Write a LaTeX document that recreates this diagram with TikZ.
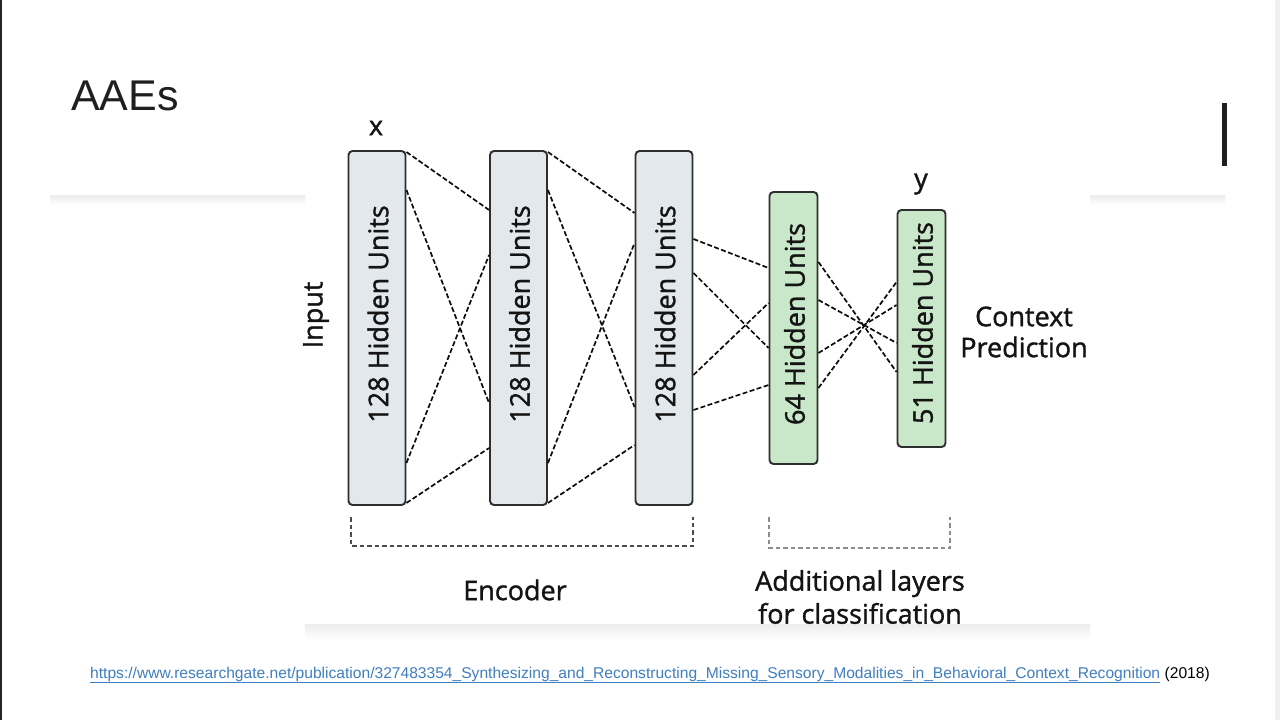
\documentclass[tikz,border=0pt]{standalone}
\usepackage{fontspec}
\setmainfont{Liberation Sans}
\newfontfamily\diagfont{Open Sans}[FakeBold=1.3]
\usetikzlibrary{calc}
\definecolor{boxgray}{HTML}{E2E8EC}
\definecolor{boxgreen}{HTML}{C9E8C9}
\definecolor{edge}{HTML}{2E2E2E}
\definecolor{linkblue}{HTML}{3F7FC0}
\begin{document}
\begin{tikzpicture}[x=1pt,y=-1pt,
  layerbox/.style={draw=edge, line width=1.9pt, rounded corners=4pt, inner sep=0pt},
  graybox/.style={layerbox, fill=boxgray, minimum width=57pt, minimum height=354pt},
  conn/.style={draw=black!95, line width=1.7pt, dash pattern=on 5pt off 2.4pt},
  brace/.style={draw=black!70, line width=1.4pt, dash pattern=on 4.5pt off 3pt},
  lbl/.style={font=\diagfont\fontsize{27}{30}\selectfont, text=black!92, inner sep=0pt},
  boxtext/.style={lbl, rotate=90}]
\useasboundingbox (0,0) rectangle (1280,720);
\fill[white] (0,0) rectangle (1280,720);
% slide edges
\fill[black!85] (0,0) rectangle (2,720);
\fill[black!6] (1275,0) rectangle (1280,720);
% card shadows
\shade[top color=black!8, bottom color=white] (50,195) rectangle (305,205);
\shade[top color=black!8, bottom color=white] (1090,195) rectangle (1225,205);
\shade[top color=black!7, bottom color=white] (305,624) rectangle (1090,640);
% title
\node[anchor=base west, font=\fontsize{43}{48}\selectfont, text=black!88, inner sep=0pt] (title) at (71,110) {AAEs};
\fill[black!88] (1222,103) rectangle (1227,166);
% layers
\node[graybox] (b1) at (377,328) {};
\node[graybox] (b2) at (518.5,328) {};
\node[graybox] (b3) at (664,328) {};
\node[layerbox, fill=boxgreen, minimum width=48pt, minimum height=272pt] (b4) at (793.5,328) {};
\node[layerbox, fill=boxgreen, minimum width=48pt, minimum height=237pt] (b5) at (921.5,328.5) {};
\node[boxtext] (t1) at (378,314) {128 Hidden Units};
\node[boxtext] (t2) at (519.5,314) {128 Hidden Units};
\node[boxtext] (t3) at (665,314) {128 Hidden Units};
\node[boxtext] (t4) at (794.5,324) {64 Hidden Units};
\node[boxtext] (t5) at (922.5,323) {51 Hidden Units};
% labels
\node[lbl] (lx) at (376,128) {x};
\node[lbl] (ly) at (921,184) {y};
\node[lbl, rotate=90] (lin) at (316,315) {Input};
\node[lbl, align=center] (lcp) at (1024,332) {Context\\[1pt]Prediction};
% connections b1-b2
\draw[conn] (b1.east |- 0,152) -- (b2.west |- 0,210);
\draw[conn] (b1.east |- 0,190) -- (b2.west |- 0,403);
\draw[conn] (b1.east |- 0,463) -- (b2.west |- 0,255);
\draw[conn] (b1.east |- 0,503) -- (b2.west |- 0,448);
% b2-b3
\draw[conn] (b2.east |- 0,152) -- (b3.west |- 0,213);
\draw[conn] (b2.east |- 0,190) -- (b3.west |- 0,407);
\draw[conn] (b2.east |- 0,463) -- (b3.west |- 0,243);
\draw[conn] (b2.east |- 0,503) -- (b3.west |- 0,445);
% b3-b4
\draw[conn] (b3.east |- 0,239) -- (b4.west |- 0,268);
\draw[conn] (b3.east |- 0,273) -- (b4.west |- 0,348);
\draw[conn] (b3.east |- 0,375) -- (b4.west |- 0,303);
\draw[conn] (b3.east |- 0,410) -- (b4.west |- 0,385);
% b4-b5
\draw[conn] (b4.east |- 0,262) -- (b5.west |- 0,372);
\draw[conn] (b4.east |- 0,300) -- (b5.west |- 0,343);
\draw[conn] (b4.east |- 0,353) -- (b5.west |- 0,305);
\draw[conn] (b4.east |- 0,388) -- (b5.west |- 0,282);
% brackets
\coordinate (e1) at (351,517);
\coordinate (e2) at (693,517);
\draw[brace] (e1) -- (e1 |- 0,546) -- (e2 |- 0,546) -- (e2);
\coordinate (c1) at (769,517);
\coordinate (c2) at (950,517);
\draw[brace, draw=black!45] (c1) -- (c1 |- 0,548) -- (c2 |- 0,548) -- (c2);
\node[lbl] (lenc) at (515,590) {Encoder};
\node[lbl, align=center] (lcls) at (860,597) {Additional layers\\[3pt]for classification};
% footer
\node[anchor=base west, inner sep=0pt, font=\fontsize{15.6}{17}\selectfont] (foot) at (90,678)
  {\textcolor{linkblue}{\underline{https://www.researchgate.net/publication/327483354\_Synthesizing\_and\_Reconstructing\_Missing\_Sensory\_Modalities\_in\_Behavioral\_Context\_Recognition}}\ (2018)};
\end{tikzpicture}
\end{document}
